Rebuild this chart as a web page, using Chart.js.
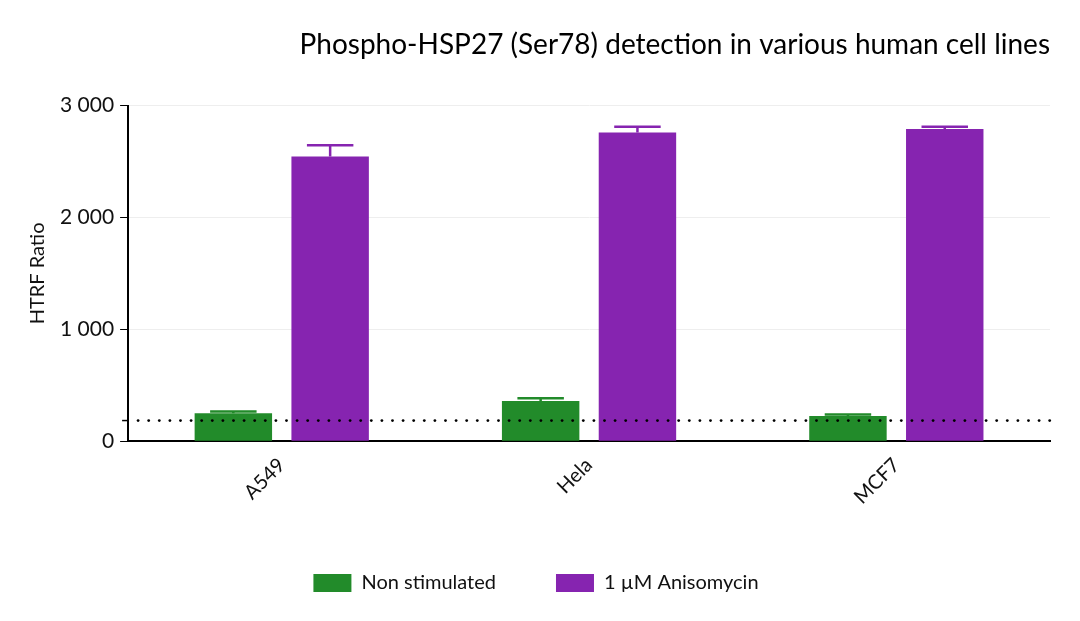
<!DOCTYPE html>
<html><head><meta charset="utf-8">
<script src="https://cdn.jsdelivr.net/npm/chart.js@4"></script>
<style>html,body{margin:0;background:#fff}#wrap{width:1080px;height:621px}</style>
</head><body><div id="wrap"><canvas id="c"></canvas></div>
<script>
const categories = ['A549', 'Hela', 'MCF7'];
const nonStimulated = [250, 360, 225];
const nonStimulatedErr = [15, 25, 15];
const anisomycin = [2545, 2760, 2790];
const anisomycinErr = [100, 50, 20];
const backgroundLevel = 185;
const yTicks = [0, 1000, 2000, 3000];

// upper error bars and the dotted background line
const extras = {
  id: 'extras',
  afterDatasetsDraw(chart) {
    const ctx = chart.ctx, y = chart.scales.y, area = chart.chartArea;
    const errs = [nonStimulatedErr, anisomycinErr];
    chart.data.datasets.forEach((ds, di) => {
      chart.getDatasetMeta(di).data.forEach((bar, i) => {
        const top = y.getPixelForValue(ds.data[i] + errs[di][i]);
        const half = bar.width * 0.3;
        ctx.save();
        ctx.strokeStyle = ds.backgroundColor;
        ctx.lineWidth = 2.5;
        ctx.beginPath();
        ctx.moveTo(bar.x, bar.y); ctx.lineTo(bar.x, top);
        ctx.moveTo(bar.x - half, top); ctx.lineTo(bar.x + half, top);
        ctx.stroke();
        ctx.restore();
      });
    });
    const ly = y.getPixelForValue(backgroundLevel);
    ctx.save();
    ctx.fillStyle = '#000';
    for (let x = area.left + 10; x < area.right; x += 10.6) {
      ctx.beginPath(); ctx.arc(x, ly, 1.4, 0, Math.PI * 2); ctx.fill();
    }
    ctx.strokeStyle = '#000'; ctx.lineWidth = 1.5;
    ctx.beginPath(); ctx.moveTo(area.left - 6, ly); ctx.lineTo(area.left, ly); ctx.stroke();
    ctx.restore();
  }
};

new Chart(document.getElementById('c'), {
  type: 'bar',
  data: {
    labels: categories,
    datasets: [
      { label: 'Non stimulated', data: nonStimulated, backgroundColor: '#228b2a' },
      { label: '1 µM Anisomycin', data: anisomycin, backgroundColor: '#8624b0' }
    ]
  },
  options: {
    responsive: true,
    maintainAspectRatio: false,
    animation: false,
    layout: { padding: { left: 22, right: 30, top: 8, bottom: 18 } },
    datasets: { bar: { categoryPercentage: 0.63, barPercentage: 0.8 } },
    plugins: {
      title: {
        display: true, text: 'Phospho-HSP27 (Ser78) detection in various human cell lines',
        color: '#000', font: { family: 'Lato', size: 28, weight: 'normal' },
        align: 'end', padding: { top: 20, bottom: 44 }
      },
      legend: {
        position: 'bottom',
        labels: { color: '#111', font: { family: 'Lato', size: 20 }, boxWidth: 38, boxHeight: 18, padding: 60 }
      },
      tooltip: { enabled: false }
    },
    scales: {
      x: {
        offset: true,
        grid: { display: false, drawTicks: true, tickLength: 8, color: '#000' },
        border: { color: '#000', width: 2 },
        ticks: { color: '#111', font: { family: 'Lato', size: 20 }, maxRotation: 45, minRotation: 45, padding: 4 }
      },
      y: {
        min: 0, max: 3000,
        afterBuildTicks(axis) { axis.ticks = yTicks.map(v => ({ value: v })); },
        grid: { color: '#eeeeee', tickLength: 8, tickColor: '#000' },
        border: { color: '#000', width: 2 },
        title: { display: true, text: 'HTRF Ratio', color: '#111', font: { family: 'Lato', size: 20 } },
        ticks: {
          color: '#111', font: { family: 'Lato', size: 21 }, padding: 6,
          callback: v => v >= 1000 ? Math.floor(v / 1000) + ' ' + String(v % 1000).padStart(3, '0') : String(v)
        }
      }
    }
  },
  plugins: [extras]
});
</script></body></html>
